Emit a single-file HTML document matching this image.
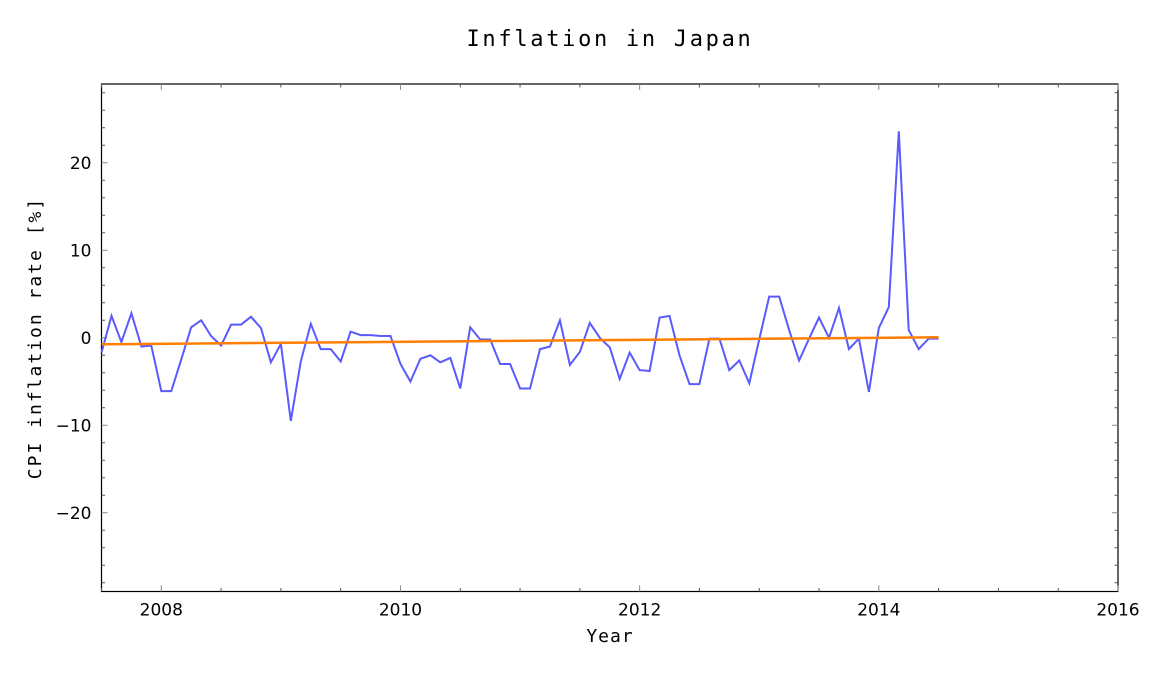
<!DOCTYPE html>
<html><head><meta charset="utf-8"><style>
html,body{margin:0;padding:0;background:#fff;}
svg{display:block;}
</style></head><body>
<svg id="chart" width="1152" height="674" xmlns="http://www.w3.org/2000/svg">
<text x="610" y="46" text-anchor="middle" font-family="DejaVu Sans Mono, Liberation Mono, monospace" font-size="22" letter-spacing="2.7" fill="#000">Inflation in Japan</text>
<text x="610" y="642" text-anchor="middle" font-family="DejaVu Sans Mono, Liberation Mono, monospace" font-size="18" letter-spacing="1" fill="#000">Year</text>
<text transform="translate(41,338) rotate(-90)" text-anchor="middle" font-family="DejaVu Sans Mono, Liberation Mono, monospace" font-size="18" letter-spacing="2" fill="#000">CPI inflation rate [%]</text>
<g id="axes"></g>
<g id="series"></g>
</svg>
<script>
const startYear = 2007.5;
const cpiValues = [-1.7,2.5,-0.5,2.8,-1.0,-0.9,-6.1,-6.1,-2.5,1.2,2.0,0.2,-0.9,1.5,1.5,2.4,1.1,-2.8,-0.7,-9.5,-2.7,1.6,-1.3,-1.3,-2.7,0.7,0.3,0.3,0.2,0.2,-3.0,-5.0,-2.4,-2.0,-2.8,-2.3,-5.8,1.2,-0.2,-0.2,-3.0,-3.0,-5.8,-5.8,-1.3,-1.0,2.0,-3.1,-1.6,1.7,0.0,-1.1,-4.7,-1.7,-3.7,-3.8,2.3,2.5,-2.0,-5.3,-5.3,-0.1,-0.1,-3.7,-2.6,-5.2,-0.2,4.7,4.7,0.9,-2.6,-0.1,2.3,0.0,3.4,-1.3,-0.1,-6.2,1.1,3.5,23.6,0.9,-1.3,-0.1,-0.1];
const trendYears = [2007.5, 2014.5];
const trendValues = [-0.75, 0.05];
const xTicks = [2008,2010,2012,2014,2016];
const yTicks = [-20,-10,0,10,20];

const L=101.5,R=1118,T=84,B=591.5;
const XMIN=2007.5,XMAX=2016,YMIN=-29,YMAX=29;
const sx=t=>L+(t-XMIN)/(XMAX-XMIN)*(R-L);
const sy=v=>B-(v-YMIN)/(YMAX-YMIN)*(B-T);
const NS='http://www.w3.org/2000/svg';
const axes=document.getElementById('axes'), series=document.getElementById('series');
function mk(tag,attrs,parent){const e=document.createElementNS(NS,tag);for(const k in attrs)e.setAttribute(k,attrs[k]);parent.appendChild(e);return e;}

const frame=mk('rect',{x:L,y:T,width:R-L,height:B-T,fill:'none',stroke:'#000','stroke-width':1.2},axes);



for(let t=XMIN;t<=XMAX+1e-6;t+=0.5){
  const major=Math.abs(t-Math.round(t))<1e-6 && Math.round(t)%2===0;
  const x=sx(t),len=major?6:3.5;
  const tk=mk('path',{d:`M${x},${B}v${-len}M${x},${T}v${len}`,stroke:major?'#888':'#555','stroke-width':1},axes);
  
  
}
xTicks.forEach(t=>{
  const tx=mk('text',{x:sx(t),y:B+24,'text-anchor':'middle','font-family':'DejaVu Sans, Liberation Sans, sans-serif','font-size':17,fill:'#000'},axes);
  tx.textContent=t;
  
  
});
for(let v=-28;v<=28;v+=2){
  const major=v%10===0;
  const y=sy(v),len=major?6:3.5;
  const tk=mk('path',{d:`M${L},${y}h${len}M${R},${y}h${-len}`,stroke:major?'#888':'#555','stroke-width':1},axes);
  
  
}
yTicks.forEach(v=>{
  const tx=mk('text',{x:L-10,y:sy(v)+6,'text-anchor':'end','font-family':'DejaVu Sans, Liberation Sans, sans-serif','font-size':17,fill:'#000'},axes);
  tx.textContent=v<0?'\u2212'+Math.abs(v):String(v);
  
  
});

const pts=cpiValues.map((v,i)=>sx(startYear+i/12).toFixed(1)+','+sy(v).toFixed(1)).join(' ');
const line=mk('polyline',{points:pts,fill:'none',stroke:'#5a5aff','stroke-width':2,'stroke-linejoin':'miter'},series);



const tpts=trendYears.map((t,i)=>sx(t).toFixed(1)+','+sy(trendValues[i]).toFixed(1)).join(' ');
const trend=mk('polyline',{points:tpts,fill:'none',stroke:'#ff8000','stroke-width':2.5},series);


</script>
</body></html>
